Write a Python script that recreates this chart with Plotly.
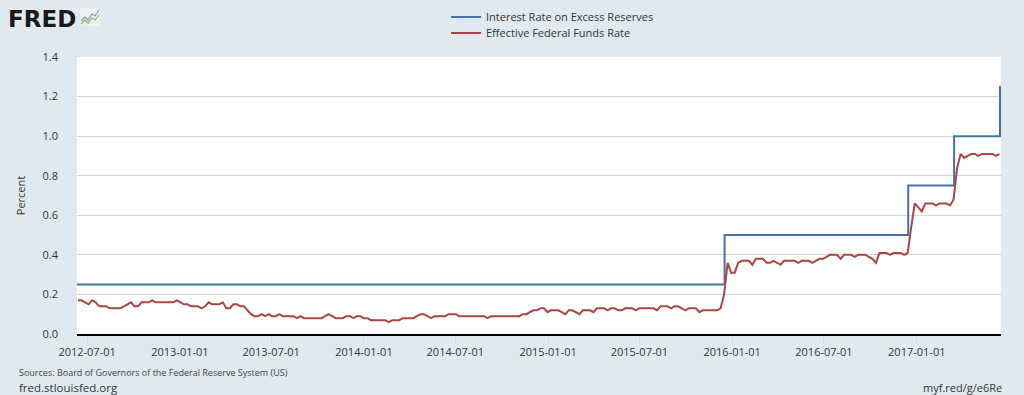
import pandas as pd
import plotly.graph_objects as go

# ---- data ----
effr_start = "2012-06-13"  # weekly, ending Wednesday
effr_values = [
    0.17, 0.17, 0.16, 0.15, 0.17, 0.16, 0.14, 0.14, 0.14, 0.13,
    0.13, 0.13, 0.13, 0.14, 0.15, 0.16, 0.14, 0.14, 0.16, 0.16,
    0.16, 0.17, 0.16, 0.16, 0.16, 0.16, 0.16, 0.16, 0.17, 0.16,
    0.15, 0.15, 0.14, 0.14, 0.14, 0.13, 0.14, 0.16, 0.15, 0.15,
    0.15, 0.16, 0.13, 0.13, 0.15, 0.15, 0.14, 0.14, 0.12, 0.10,
    0.09, 0.09, 0.10, 0.09, 0.10, 0.09, 0.09, 0.10, 0.09, 0.09,
    0.09, 0.09, 0.08, 0.09, 0.08, 0.08, 0.08, 0.08, 0.08, 0.08,
    0.09, 0.10, 0.09, 0.08, 0.08, 0.08, 0.09, 0.09, 0.08, 0.09,
    0.09, 0.08, 0.08, 0.07, 0.07, 0.07, 0.07, 0.07, 0.06, 0.07,
    0.07, 0.07, 0.08, 0.08, 0.08, 0.08, 0.09, 0.10, 0.10, 0.09,
    0.08, 0.09, 0.09, 0.09, 0.09, 0.10, 0.10, 0.10, 0.09, 0.09,
    0.09, 0.09, 0.09, 0.09, 0.09, 0.09, 0.08, 0.09, 0.09, 0.09,
    0.09, 0.09, 0.09, 0.09, 0.09, 0.09, 0.10, 0.10, 0.11, 0.12,
    0.12, 0.13, 0.13, 0.11, 0.12, 0.12, 0.12, 0.11, 0.10, 0.12,
    0.12, 0.11, 0.10, 0.12, 0.12, 0.12, 0.11, 0.13, 0.13, 0.13,
    0.12, 0.13, 0.13, 0.12, 0.12, 0.13, 0.13, 0.13, 0.12, 0.13,
    0.13, 0.13, 0.13, 0.13, 0.12, 0.14, 0.14, 0.14, 0.13, 0.14,
    0.14, 0.13, 0.12, 0.13, 0.13, 0.13, 0.11, 0.12, 0.12, 0.12,
    0.12, 0.12, 0.13, 0.20, 0.36, 0.31, 0.31, 0.36, 0.37, 0.37,
    0.37, 0.35, 0.38, 0.38, 0.38, 0.36, 0.36, 0.37, 0.36, 0.35,
    0.37, 0.37, 0.37, 0.37, 0.36, 0.37, 0.37, 0.37, 0.36, 0.37,
    0.38, 0.38, 0.39, 0.40, 0.40, 0.40, 0.38, 0.40, 0.40, 0.40,
    0.39, 0.40, 0.40, 0.40, 0.39, 0.38, 0.36, 0.41, 0.41, 0.41,
    0.40, 0.41, 0.41, 0.41, 0.40, 0.41, 0.54, 0.66, 0.64, 0.62,
    0.66, 0.66, 0.66, 0.65, 0.66, 0.66, 0.66, 0.65, 0.68, 0.84,
    0.91, 0.89, 0.90, 0.91, 0.91, 0.90, 0.91, 0.91, 0.91, 0.91,
    0.90, 0.91,
]
effr_dates = pd.date_range(effr_start, periods=len(effr_values), freq="7D")

ioer_dates = ["2012-06-11", "2015-12-17", "2016-12-15", "2017-03-16", "2017-06-15", "2017-06-17"]
ioer_values = [0.25, 0.50, 0.75, 1.00, 1.25, 1.25]

x_range = ["2012-06-11", "2017-06-17"]
y_ticks = [0.0, 0.2, 0.4, 0.6, 0.8, 1.0, 1.2, 1.4]
x_ticks = ["2012-07-01", "2013-01-01", "2013-07-01", "2014-01-01", "2014-07-01",
           "2015-01-01", "2015-07-01", "2016-01-01", "2016-07-01", "2017-01-01"]

# ---- layout geometry (pixels) ----
W, H = 1024, 395
L, R, T, B = 77, 1001, 57, 334


def px(x):
    return (x - L) / (R - L)


def py(y):
    return (B - y) / (B - T)


BG = "#e1e9f0"
FONT = "Open Sans"

fig = go.Figure()
fig.add_trace(go.Scatter(
    x=ioer_dates, y=ioer_values, mode="lines", line_shape="hv",
    name="Interest Rate on Excess Reserves", legend="legend",
    line=dict(color="#4572a7", width=2),
))
fig.add_trace(go.Scatter(
    x=effr_dates, y=effr_values, mode="lines",
    name="Effective Federal Funds Rate", legend="legend2",
    line=dict(color="#aa4643", width=2),
))

leg_common = dict(
    orientation="v", x=px(446), xanchor="left", yanchor="middle",
    bgcolor="rgba(0,0,0,0)", font=dict(size=11, color="#333333"),
    itemwidth=30, tracegroupgap=0, borderwidth=0,
)

fig.update_layout(
    width=W, height=H,
    paper_bgcolor=BG, plot_bgcolor="white",
    margin=dict(l=L, r=W - R, t=T, b=H - B, pad=0, autoexpand=False),
    font=dict(family=FONT, size=11, color="#333333"),
    showlegend=True,
    legend=dict(y=py(17), **leg_common),
    legend2=dict(y=py(33), **leg_common),
    xaxis=dict(
        type="date", range=x_range, tickvals=x_ticks, tickformat="%Y-%m-%d",
        showgrid=False, showline=True, linecolor="#000000", linewidth=2,
        ticks="outside", ticklen=7, tickcolor="#ccd6eb", tickwidth=1,
        tickfont=dict(size=11, color="#333333"), zeroline=False,
    ),
    yaxis=dict(
        range=[0, 1.4], tickvals=y_ticks, tickformat=".1f",
        showgrid=True, gridcolor="#d4d4d4", gridwidth=1, zeroline=False,
        ticks="", ticklabelstandoff=18,
        tickfont=dict(size=11, color="#333333"),
        title=dict(text="Percent", font=dict(size=11, color="#333333"), standoff=14),
    ),
    annotations=[
        dict(text="<b>FRED</b>", x=px(6), y=py(19), xref="paper", yref="paper",
             xanchor="left", yanchor="middle", showarrow=False,
             font=dict(family="DejaVu Sans", size=23, color="#1a1a1a")),
        dict(text="Sources: Board of Governors of the Federal Reserve System (US)",
             x=px(17), y=py(372), xref="paper", yref="paper", xanchor="left", yanchor="middle",
             showarrow=False, font=dict(size=9, color="#444444")),
        dict(text="fred.stlouisfed.org", x=px(17), y=py(387), xref="paper", yref="paper",
             xanchor="left", yanchor="middle", showarrow=False,
             font=dict(size=11.5, color="#333333")),
        dict(text="myf.red/g/e6Re", x=px(1004), y=py(387), xref="paper", yref="paper",
             xanchor="right", yanchor="middle", showarrow=False,
             font=dict(size=11, color="#333333")),
    ],
    shapes=[
        dict(type="rect", xref="paper", yref="paper", x0=px(80), x1=px(100), y0=py(26), y1=py(8),
             fillcolor="#eef1f3", line=dict(width=0), layer="above"),
        dict(type="path", xref="paper", yref="paper",
             path=f"M {px(81)} {py(21)} L {px(85)} {py(17)} L {px(88)} {py(20)} L {px(92)} {py(14)} L {px(95)} {py(16)} L {px(99)} {py(10)}",
             line=dict(color="#7a9cc0", width=1.2), layer="above"),
        dict(type="path", xref="paper", yref="paper",
             path=f"M {px(81)} {py(24)} L {px(85)} {py(20)} L {px(88)} {py(23)} L {px(92)} {py(18)} L {px(95)} {py(20)} L {px(99)} {py(15)}",
             line=dict(color="#8cb86a", width=1.2), layer="above"),
    ],
)

fig.write_html(
    "out.html",
    config={"displayModeBar": False},
    post_script="document.body.style.margin='0';document.body.style.padding='0';",
)
